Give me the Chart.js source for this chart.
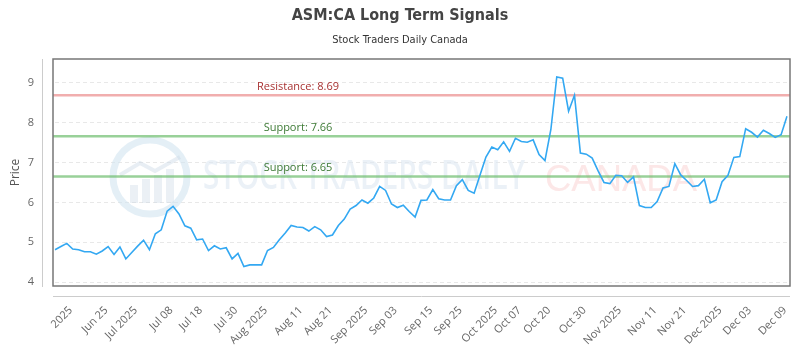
<!DOCTYPE html>
<html><head><meta charset="utf-8">
<script src="https://cdn.jsdelivr.net/npm/chart.js@4"></script>
<style>html,body{margin:0;padding:0;background:#fff}</style>
</head><body>
<canvas id="c" width="800" height="350"></canvas>
<script>
// ---- data ----
const prices = [4.81,4.89,4.97,4.83,4.81,4.76,4.76,4.70,4.78,4.89,4.69,4.88,4.58,4.74,4.90,5.05,4.81,5.21,5.31,5.78,
5.90,5.71,5.41,5.35,5.06,5.08,4.79,4.91,4.83,4.86,4.58,4.72,4.39,4.43,4.43,4.43,4.79,4.87,5.06,5.23,
5.42,5.38,5.37,5.28,5.39,5.31,5.14,5.18,5.42,5.58,5.83,5.92,6.06,5.98,6.11,6.40,6.30,5.96,5.87,5.93,
5.77,5.63,6.05,6.06,6.32,6.09,6.06,6.06,6.42,6.57,6.30,6.23,6.69,7.14,7.39,7.32,7.52,7.28,7.61,7.53,
7.51,7.57,7.20,7.05,7.83,9.15,9.12,8.29,8.69,7.24,7.21,7.11,6.79,6.50,6.47,6.68,6.67,6.50,6.64,5.92,
5.87,5.87,6.02,6.36,6.40,6.97,6.69,6.55,6.40,6.42,6.58,5.99,6.06,6.52,6.68,7.13,7.15,7.85,7.76,7.64,
7.81,7.73,7.63,7.70,8.16];
const tickIdx  = [2,8,13,19,24,30,35,41,46,52,57,63,68,74,78,83,89,95,101,106,112,117,123];
const tickText = ["2025","Jun 25","Jul 2025","Jul 08","Jul 18","Jul 30","Aug 2025","Aug 11","Aug 21","Sep 2025","Sep 03",
"Sep 15","Sep 25","Oct 2025","Oct 07","Oct 20","Oct 30","Nov 2025","Nov 11","Nov 21","Dec 2025","Dec 03","Dec 09"];
const levelValues = [8.69, 7.66, 6.65];
const levelNames  = ["Resistance", "Support", "Support"];

const categories = prices.map((_, i) => {
  const k = tickIdx.indexOf(i);
  return k >= 0 ? tickText[k] : "";
});

const levelStyle = {
  Resistance: { line: "rgba(232,120,120,0.6)", text: "#a83232" },
  Support:    { line: "rgba(110,190,110,0.7)", text: "#3d7a35" }
};

function fitText(ctx, text, x, y, w) {
  const m = ctx.measureText(text).width;
  ctx.save();
  ctx.translate(x, y);
  ctx.scale(w / m, 1);
  ctx.fillText(text, 0, 0);
  ctx.restore();
}

const decor = {
  id: "decor",
  beforeDatasetsDraw(chart) {
    const { ctx, chartArea: a, scales: { y } } = chart;
    ctx.save();
    // watermark
    const cx = 150, cy = 177;
    ctx.strokeStyle = "rgba(210,228,240,0.6)";
    ctx.lineWidth = 7;
    ctx.beginPath(); ctx.arc(cx, cy, 37, 0, Math.PI * 2); ctx.stroke();
    ctx.fillStyle = "rgba(205,218,230,0.4)";
    [[-20,18],[-8,24],[4,28],[16,34]].forEach(([dx, h]) => {
      ctx.fillRect(cx + dx, cy + 26 - h, 8, h);
    });
    ctx.strokeStyle = "rgba(205,218,230,0.45)"; ctx.lineWidth = 4;
    ctx.beginPath(); ctx.moveTo(cx - 30, cy - 2); ctx.lineTo(cx - 10, cy - 14); ctx.lineTo(cx + 5, cy - 6); ctx.lineTo(cx + 30, cy - 20); ctx.stroke();
    ctx.textBaseline = "middle"; ctx.textAlign = "left";
    ctx.font = "600 40px 'Open Sans', sans-serif";
    ctx.fillStyle = "rgba(222,232,241,0.6)";
    fitText(ctx, "STOCK TRADERS DAILY", 203, 178, 322);
    ctx.font = "36px 'Liberation Sans', sans-serif";
    ctx.fillStyle = "rgba(250,215,215,0.6)";
    fitText(ctx, "CANADA", 545, 181, 152);

    // level lines
    levelValues.forEach((v, i) => {
      const st = levelStyle[levelNames[i]];
      const py = y.getPixelForValue(v);
      ctx.strokeStyle = st.line; ctx.lineWidth = 2.5;
      ctx.beginPath(); ctx.moveTo(a.left - 2, py); ctx.lineTo(a.right + 3, py); ctx.stroke();
      ctx.font = "11px 'Open Sans', sans-serif";
      ctx.fillStyle = st.text; ctx.textAlign = "center"; ctx.textBaseline = "middle";
      ctx.fillText(levelNames[i] + ": " + v.toFixed(2), a.left + (a.right - a.left) * 0.332, py - 8.5);
    });
    ctx.restore();
  },
  afterDraw(chart) {
    const { ctx, chartArea: a } = chart;
    ctx.save();
    ctx.strokeStyle = "#777"; ctx.lineWidth = 1.5;
    ctx.strokeRect(a.left - 2, a.top, a.right - a.left + 5, a.bottom - a.top);
    ctx.strokeStyle = "#ccc"; ctx.lineWidth = 1;
    ctx.beginPath(); ctx.moveTo(a.left - 12.5, a.top); ctx.lineTo(a.left - 12.5, a.bottom + 1); ctx.stroke();
    ctx.beginPath(); ctx.moveTo(a.left - 2, a.bottom + 10.5); ctx.lineTo(a.right + 3, a.bottom + 10.5); ctx.stroke();
    ctx.restore();
  }
};

new Chart(document.getElementById("c"), {
  type: "line",
  data: {
    labels: categories,
    datasets: [{
      data: prices,
      borderColor: "#33a8f2",
      borderWidth: 1.6,
      pointRadius: 0,
      tension: 0,
      fill: false
    }]
  },
  options: {
    responsive: false,
    animation: false,
    devicePixelRatio: 1,
    layout: { padding: 0 },
    plugins: {
      legend: { display: false },
      tooltip: { enabled: false },
      title: { display: true, text: "ASM:CA Long Term Signals", color: "#444",
        font: { family: "'DejaVu Sans Condensed', sans-serif", size: 16, weight: "bold" },
        padding: { top: 6, bottom: 5 } },
      subtitle: { display: true, text: "Stock Traders Daily Canada", color: "#333",
        font: { family: "'DejaVu Sans Condensed', sans-serif", size: 11 },
        padding: { top: 3, bottom: 12.6 } }
    },
    scales: {
      x: {
        grid: { display: false },
        border: { display: false },
        ticks: { autoSkip: false, maxRotation: 45, minRotation: 45, padding: 10, labelOffset: 4, color: "#666",
          font: { family: "'Open Sans', sans-serif", size: 11 } },
        afterFit(s) { s.height = 64; s.paddingRight = 0; s.paddingLeft = 0; }
      },
      y: {
        min: 3.9, max: 9.6,
        grid: { color: "#e8e8e8", drawTicks: false },
        border: { display: false, dash: [4, 3] },
        ticks: { stepSize: 1, includeBounds: false, padding: 21, color: "#666",
          font: { family: "'Open Sans', sans-serif", size: 11 } },
        title: { display: true, text: "Price", color: "#555", padding: { top: 8, bottom: 0 },
          font: { family: "'Open Sans', sans-serif", size: 12 } },
        afterFit(s) { s.width = 55; }
      },
      yRight: {
        position: "right",
        display: true,
        grid: { display: false },
        border: { display: false },
        ticks: { display: false },
        afterFit(s) { s.width = 13; }
      }
    }
  },
  plugins: [decor]
});
</script>
</body></html>
